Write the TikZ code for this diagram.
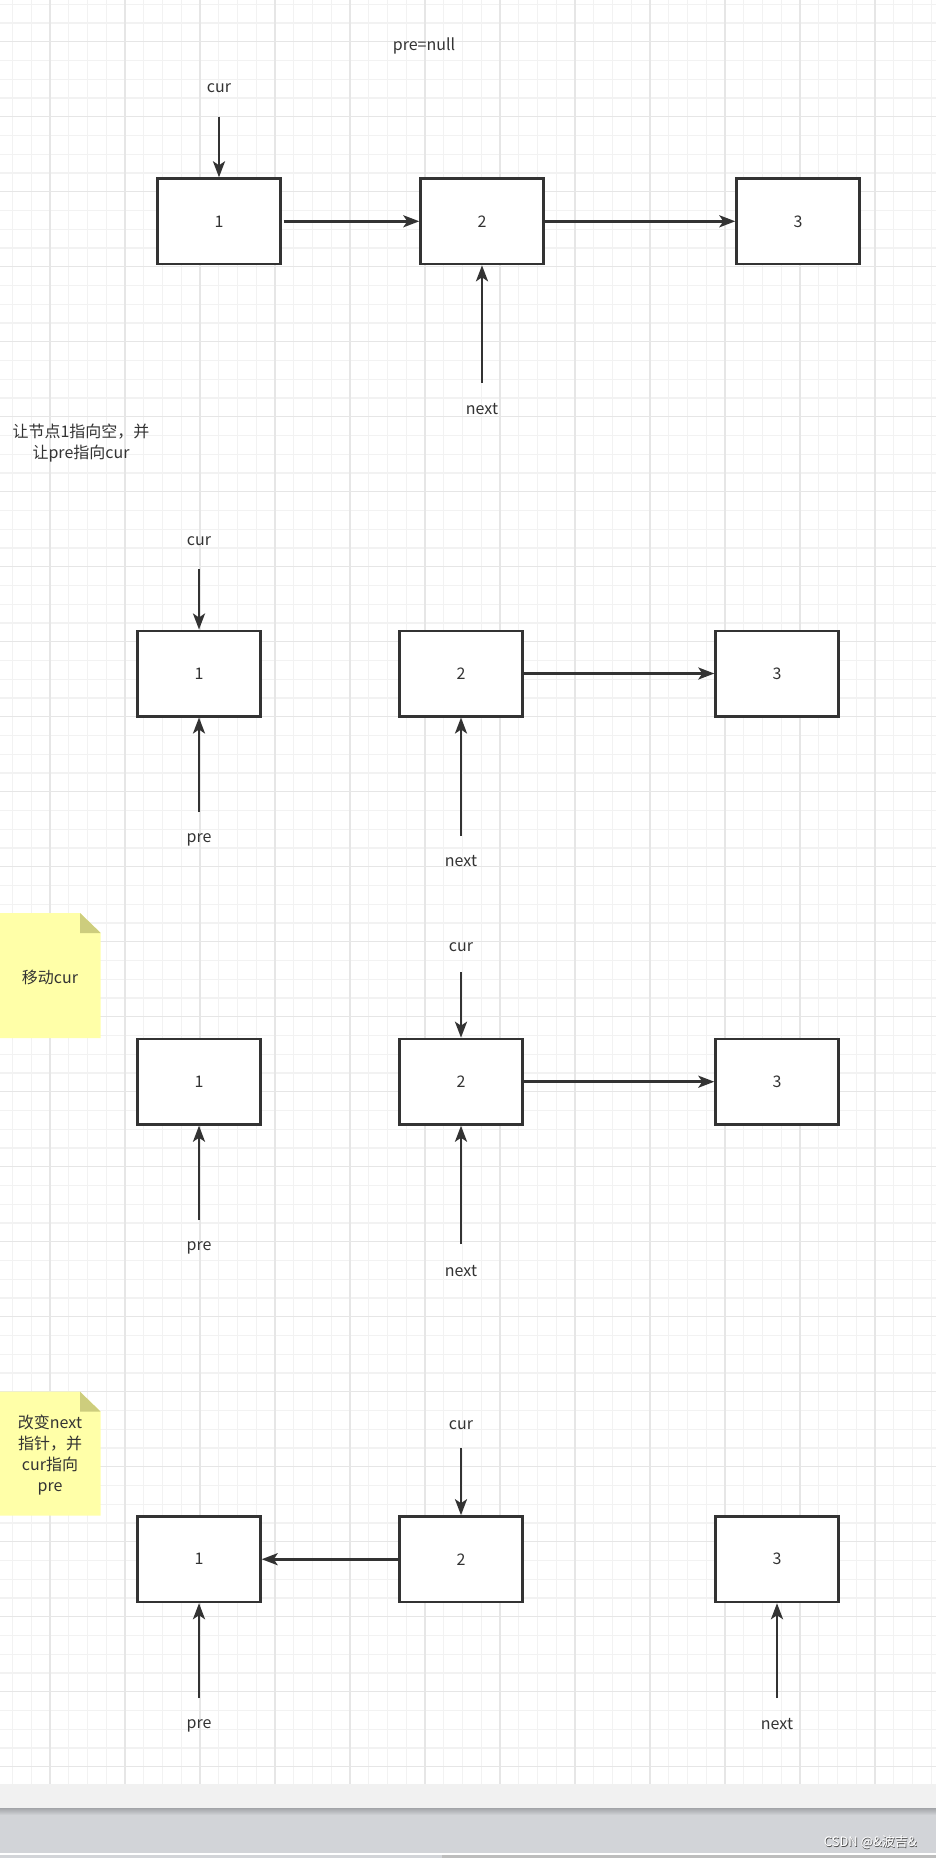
\documentclass[tikz,border=0pt]{standalone}
\usepackage{fontspec}
\setmainfont{Noto Sans CJK SC}
\usetikzlibrary{arrows.meta}
\definecolor{ink}{HTML}{333333}
\definecolor{gridminor}{HTML}{F2F2F2}
\definecolor{gridmajor}{HTML}{E6E6E6}
\definecolor{notefill}{HTML}{FFFFA8}
\definecolor{notefold}{HTML}{CDCD7D}
\definecolor{bandgray}{HTML}{F1F1F1}
\definecolor{bartop}{HTML}{A2A4A8}
\definecolor{barmid}{HTML}{D2D4D8}
\definecolor{bartab}{HTML}{BDBDBD}
\tikzset{
  box/.style={draw=ink, line width=2.7pt, fill=white, minimum width=122.7pt, minimum height=85.3pt, inner sep=0pt, text=ink},
  lbl/.style={text=ink, inner sep=0pt, text height=8.6pt, text depth=0pt},
  arr/.style={draw=ink, line width=2.6pt, -{Stealth[length=16pt, width=12pt, inset=4pt]}},
  note/.style={fill=notefill},
  fold/.style={fill=notefold},
  notetext/.style={text=ink, align=center, inner sep=0pt, font=\fontsize{16}{21}\selectfont}
}
\begin{document}
\begin{tikzpicture}[x=1pt, y=-1pt, font=\fontsize{16}{19}\selectfont]
\useasboundingbox (0,0) rectangle (936,1858);
\fill[white] (0,0) rectangle (936,1784);
% grid
\foreach \k in {0,...,49} {
  \pgfmathsetmacro{\xx}{12.5+18.75*\k}
  \ifdim\xx pt<936pt
    \draw[gridminor, line width=1.2pt] (\xx,0) -- (\xx,1784);
  \fi
}
\foreach \k in {0,...,95} {
  \pgfmathsetmacro{\yy}{4.2+18.75*\k}
  \ifdim\yy pt<1784pt
    \draw[gridminor, line width=1.2pt] (0,\yy) -- (936,\yy);
  \fi
}
\foreach \k in {0,...,12} {
  \pgfmathsetmacro{\xx}{50+75*\k}
  \ifdim\xx pt<936pt
    \draw[gridmajor, line width=1.3pt] (\xx,0) -- (\xx,1784);
  \fi
}
\foreach \k in {0,...,23} {
  \pgfmathsetmacro{\yy}{41.7+75*\k}
  \ifdim\yy pt<1784pt
    \draw[gridmajor, line width=1.3pt] (0,\yy) -- (936,\yy);
  \fi
}

% ---------- row 1 ----------
\node[lbl] (prenull) at (424,46.5) {pre=null};
\node[box] (a1) at (219,221.3) {1};
\node[box] (a2) at (482,221.3) {2};
\node[box] (a3) at (798,221.3) {3};
\node[lbl] (acur) at (219,88.5) {cur};
\coordinate (acs) at (219,116.7);
\node[lbl] (anext) at (482,410.5) {next};
\coordinate (ans) at (482,382.7);
\draw[arr] (acs) -- (a1.north);
\draw[arr] (ans) -- (a2.south);
\draw[arr] ([xshift=2pt]a1.east) -- (a2.west);
\draw[arr] (a2.east) -- (a3.west);

\node[text=ink, inner sep=0pt, align=center, font=\fontsize{16}{21}\selectfont] (note0) at (81,443) {让节点1指向空，并\\让pre指向cur};

% ---------- row 2 ----------
\node[box] (b1) at (199,673.5) {1};
\node[box] (b2) at (461,673.5) {2};
\node[box] (b3) at (777,673.5) {3};
\node[lbl] (bcur) at (199,541) {cur};
\coordinate (bcs) at (199,569);
\node[lbl] (bpre) at (199,838) {pre};
\coordinate (bps) at (199,812);
\node[lbl] (bnext) at (461,862) {next};
\coordinate (bns) at (461,836);
\draw[arr] (bcs) -- (b1.north);
\draw[arr] (bps) -- (b1.south);
\draw[arr] (bns) -- (b2.south);
\draw[arr] (b2.east) -- (b3.west);

% ---------- note 1 ----------
\fill[note] (0,913) -- (80,913) -- (100.7,933) -- (100.7,1038) -- (0,1038) -- cycle;
\fill[fold] (80,913) -- (100.7,933) -- (80,933) -- cycle;
\node[notetext] (n1) at (50,977) {移动cur};

% ---------- row 3 ----------
\node[box] (c1) at (199,1081.7) {1};
\node[box] (c2) at (461,1081.7) {2};
\node[box] (c3) at (777,1081.7) {3};
\node[lbl] (ccur) at (461,947) {cur};
\coordinate (ccs) at (461,972);
\node[lbl] (cpre) at (199,1246) {pre};
\coordinate (cps) at (199,1220);
\node[lbl] (cnext) at (461,1272) {next};
\coordinate (cns) at (461,1244);
\draw[arr] (ccs) -- (c2.north);
\draw[arr] (cps) -- (c1.south);
\draw[arr] (cns) -- (c2.south);
\draw[arr] (c2.east) -- (c3.west);

% ---------- note 2 ----------
\fill[note] (0,1391.7) -- (80,1391.7) -- (100.7,1411.7) -- (100.7,1515.7) -- (0,1515.7) -- cycle;
\fill[fold] (80,1391.7) -- (100.7,1411.7) -- (80,1411.7) -- cycle;
\node[notetext] (n2) at (50,1455) {改变next\\指针，并\\cur指向\\pre};

% ---------- row 4 ----------
\node[box] (d1) at (199,1559.2) {1};
\node[box] (d2) at (461,1559.2) {2};
\node[box] (d3) at (777,1559.2) {3};
\node[lbl] (dcur) at (461,1425) {cur};
\coordinate (dcs) at (461,1448);
\node[lbl] (dpre) at (199,1724) {pre};
\coordinate (dps) at (199,1698);
\node[lbl] (dnext) at (777,1725) {next};
\coordinate (dns) at (777,1698);
\draw[arr] (dcs) -- (d2.north);
\draw[arr] (dps) -- (d1.south);
\draw[arr] (dns) -- (d3.south);
\draw[arr] (d2.west) -- (d1.east);

% ---------- bottom bars ----------
\fill[bandgray] (0,1784) rectangle (936,1808);
\shade[top color=bartop, bottom color=barmid] (0,1808) rectangle (936,1815);
\fill[barmid] (0,1815) rectangle (936,1853);
\fill[white] (0,1853) rectangle (936,1854.5);
\fill[barmid] (0,1854.5) rectangle (442,1858);
\fill[bartab] (442,1854.5) rectangle (936,1858);
\node[text=gray!60!black, inner sep=0pt, font=\fontsize{13}{15}\selectfont] (wms) at (871,1842.8) {CSDN @\&波吉\&};
\node[text=white, inner sep=0pt, font=\fontsize{13}{15}\selectfont] (wm) at (870.3,1842) {CSDN @\&波吉\&};
\end{tikzpicture}
\end{document}
